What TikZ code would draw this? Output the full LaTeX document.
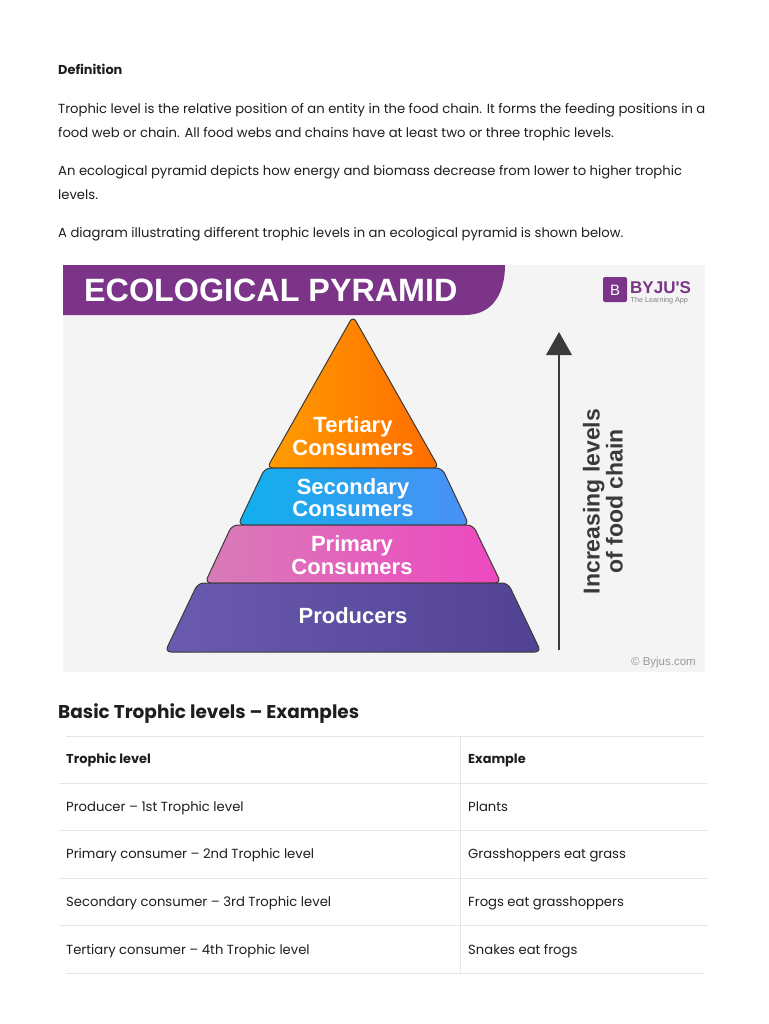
\documentclass[tikz,border=0pt]{standalone}
\usepackage{fontspec}
\setmainfont{Poppins}
\newfontfamily\arialfont{Liberation Sans}
\usetikzlibrary{calc}
\usetikzlibrary{positioning}

\definecolor{bandpurple}{HTML}{7B3488}
\definecolor{panelgrey}{HTML}{F4F4F4}
\definecolor{tierline}{HTML}{3A3A3A}
\definecolor{tablerule}{HTML}{E6E6E6}
\definecolor{bodyink}{HTML}{1E1E1E}
\definecolor{tertiaryleft}{HTML}{FF9C00}
\definecolor{tertiaryright}{HTML}{FF6C00}
\definecolor{secondaryleft}{HTML}{10B0EC}
\definecolor{secondaryright}{HTML}{4A90F5}
\definecolor{primaryleft}{HTML}{D87CB8}
\definecolor{primaryright}{HTML}{EE48C0}
\definecolor{producerleft}{HTML}{6A5BB0}
\definecolor{producerright}{HTML}{524294}

\tikzset{
  bodytext/.style={anchor=base west,inner sep=0pt,text=bodyink,font=\fontsize{13.17}{15}\selectfont},
  headcell/.style={bodytext,font=\fontsize{12.9}{15}\selectfont\bfseries},
  cell/.style={bodytext,font=\fontsize{13.17}{15}\selectfont},
  tier/.style={draw=tierline,line width=1pt,rounded corners=6pt},
  tierlabel/.style={align=center,inner sep=0pt,text=white,font=\arialfont\bfseries\fontsize{22}{22.5}\selectfont},
  sidelabel/.style={align=center,inner sep=0pt,rotate=90,text=tierline,font=\arialfont\bfseries\fontsize{23}{23}\selectfont},
  tablerule/.style={draw=tablerule,line width=0.8pt}
}

\begin{document}
\begin{tikzpicture}[x=1pt,y=-1pt]

  \useasboundingbox (0,0) rectangle (768,1024);
  \fill [white] (0,0) rectangle (768,1024);

  % top text
  \node [headcell] (definition) at (58,75) {Definition};
  \node [bodytext] (line_a) at (58,113.5) {Trophic level is the relative position of an entity in the food chain. It forms the feeding positions in a};
  \node [bodytext] (line_b) at (58,137.5) {food web or chain. All food webs and chains have at least two or three trophic levels.};
  \node [bodytext] (line_c) at (58,175.5) {An ecological pyramid depicts how energy and biomass decrease from lower to higher trophic};
  \node [bodytext] (line_d) at (58,199.5) {levels.};
  \node [bodytext] (line_e) at (58,237.5) {A diagram illustrating different trophic levels in an ecological pyramid is shown below.};

  % panel
  \fill [panelgrey] (63,265) rectangle (705,672);
  \fill [bandpurple] (63,265) -- (505,265) .. controls (505,290) and (495,315) .. (465,315) -- (63,315) -- cycle;
  \node [anchor=west,inner sep=0pt,text=white,font=\arialfont\bfseries\fontsize{32.3}{34}\selectfont] (title) at (84,290) {ECOLOGICAL PYRAMID};

  % logo
  \fill [bandpurple,rounded corners=2pt] (603,277) rectangle (627,302);
  \node [anchor=center,inner sep=0pt,text=white,font=\arialfont\fontsize{15}{15}\selectfont] (logo_b) at (615,290) {B};
  \node [anchor=base west,inner sep=0pt,text=bandpurple,font=\arialfont\bfseries\fontsize{17}{17}\selectfont] (logo_name) at (630,293.5) {BYJU'S};
  \node [anchor=base west,inner sep=0pt,text=gray,font=\arialfont\fontsize{7.2}{8}\selectfont] (logo_app) at (630.5,302) {The Learning App};

  % pyramid
  \path [tier,left color=tertiaryleft,right color=tertiaryright]
    (353,316) -- (439,468) -- (267,468) -- cycle;
  \path [tier,left color=secondaryleft,right color=secondaryright]
    (265,468) -- (442,468) -- (469,525) -- (238,525) -- cycle;
  \path [tier,left color=primaryleft,right color=primaryright]
    (232,525) -- (473,525) -- (501,583) -- (205,583) -- cycle;
  \path [tier,left color=producerleft,right color=producerright]
    (198,583) -- (508,583) -- (541,652) -- (165,652) -- cycle;

  \node [tierlabel] (tertiary)  at (353,436) {Tertiary\\Consumers};
  \node [tierlabel] (secondary) at (353,497.5) {Secondary\\Consumers};
  \node [tierlabel] (primary)   at (352,555) {Primary\\Consumers};
  \node [tierlabel] (producers) at (353,616) {Producers};

  % arrow
  \coordinate (arrow_foot) at (559,650);
  \coordinate (arrow_neck) at (559,355);
  \coordinate (arrow_tip)  at (559,332);
  \draw [tierline,line width=1.6pt] (arrow_foot) -- (arrow_neck);
  \fill [tierline] (arrow_tip) -- ($(arrow_neck)+(13,0)$) -- ($(arrow_neck)+(-13,0)$) -- cycle;
  \node [sidelabel] (increasing) at (603,501.5) {Increasing levels\\of food chain};
  \node [anchor=base east,inner sep=0pt,text=gray!80,font=\arialfont\fontsize{11.5}{12}\selectfont] (copyright) at (696,665) {© Byjus.com};

  % table
  \node [bodytext,font=\fontsize{18.5}{20}\selectfont\bfseries] (heading) at (58,718) {Basic Trophic levels – Examples};

  \draw [tablerule] (66,736.5) -- (704,736.5);
  \foreach \y in {783.5,830.5,878,925.5}
    \draw [tablerule] (59,\y) -- (708,\y);
  \draw [tablerule] (66,973) -- (704,973);
  \draw [tablerule] (460.5,736.5) -- (460.5,973);

  \node [headcell] (head_a) at (66,763.5) {Trophic level};
  \node [headcell] (head_b) at (468,763.5) {Example};
  \node [cell] (row_1a) at (66,811) {Producer – 1st Trophic level};
  \node [cell] (row_1b) at (468,811) {Plants};
  \node [cell] (row_2a) at (66,858.5) {Primary consumer – 2nd Trophic level};
  \node [cell] (row_2b) at (468,858.5) {Grasshoppers eat grass};
  \node [cell] (row_3a) at (66,906.5) {Secondary consumer – 3rd Trophic level};
  \node [cell] (row_3b) at (468,906.5) {Frogs eat grasshoppers};
  \node [cell] (row_4a) at (66,954) {Tertiary consumer – 4th Trophic level};
  \node [cell] (row_4b) at (468,954) {Snakes eat frogs};

\end{tikzpicture}
\end{document}
